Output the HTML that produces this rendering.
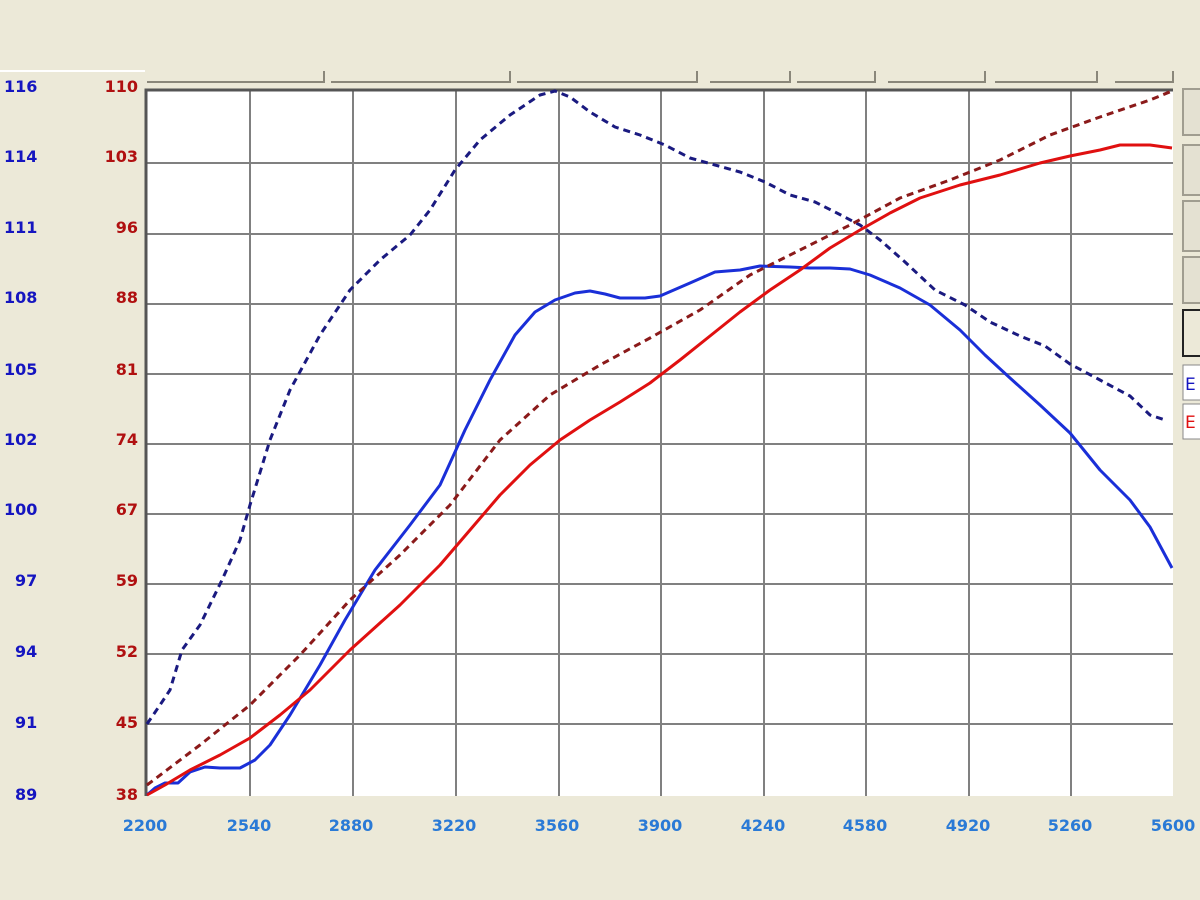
<!DOCTYPE html>
<html><head><style>
body{margin:0;background:#ece9d8;width:1200px;height:900px;overflow:hidden;font-family:"DejaVu Sans","Liberation Sans",sans-serif;}
</style></head><body>
<svg width="1200" height="900" xmlns="http://www.w3.org/2000/svg" style="position:absolute;left:0;top:0;font-family:'DejaVu Sans','Liberation Sans',sans-serif">
<rect width="1200" height="900" fill="#ece9d8"/>
<line x1="0" y1="71" x2="145" y2="71" stroke="#fff" stroke-width="2"/>
<g stroke="#8a877a" stroke-width="2" fill="none">
<path d="M147 82H324V71"/><path d="M331 82H510V71"/><path d="M517 82H697V71"/><path d="M710 82H790V71"/><path d="M797 82H875V71"/><path d="M888 82H985V71"/><path d="M995 82H1097V71"/><path d="M1115 82H1173V71"/>
</g>
<rect x="146" y="90" width="1027" height="706" fill="#fff"/>
<g stroke="#808080" stroke-width="2">
<line x1="250" y1="90" x2="250" y2="796"/><line x1="353" y1="90" x2="353" y2="796"/><line x1="456" y1="90" x2="456" y2="796"/><line x1="559" y1="90" x2="559" y2="796"/><line x1="661" y1="90" x2="661" y2="796"/><line x1="764" y1="90" x2="764" y2="796"/><line x1="866" y1="90" x2="866" y2="796"/><line x1="969" y1="90" x2="969" y2="796"/><line x1="1071" y1="90" x2="1071" y2="796"/>
<line x1="146" y1="163" x2="1173" y2="163"/><line x1="146" y1="234" x2="1173" y2="234"/><line x1="146" y1="304" x2="1173" y2="304"/><line x1="146" y1="374" x2="1173" y2="374"/><line x1="146" y1="444" x2="1173" y2="444"/><line x1="146" y1="514" x2="1173" y2="514"/><line x1="146" y1="584" x2="1173" y2="584"/><line x1="146" y1="654" x2="1173" y2="654"/><line x1="146" y1="724" x2="1173" y2="724"/>
</g>
<path d="M146 796V90H1173" stroke="#555" stroke-width="3" fill="none"/>
<g fill="none" stroke-width="3" stroke-linejoin="round">
<polyline stroke="#1a1a80" stroke-dasharray="7,5" points="147,724 160,705 170,690 182,650 200,625 222,580 240,540 250,505 270,440 290,390 320,335 350,290 380,260 410,235 430,210 455,170 480,140 510,115 540,95 555,91 570,97 590,112 615,127 640,135 665,145 690,158 715,165 740,172 765,182 790,195 815,202 835,212 860,225 880,240 905,262 935,290 965,305 990,322 1020,336 1045,346 1070,364 1100,380 1130,396 1150,415 1165,420"/>
<polyline stroke="#1a2fd8" points="147,795 155,788 165,783 178,783 190,772 205,767 220,768 240,768 255,760 270,745 290,715 320,665 345,620 375,570 410,525 440,485 465,430 490,380 515,335 535,312 555,300 575,293 590,291 605,294 620,298 645,298 660,296 690,283 715,272 740,270 760,266 790,267 810,268 830,268 850,269 870,275 900,288 930,305 960,330 985,355 1010,378 1040,405 1070,433 1100,470 1130,500 1150,527 1172,568"/>
<polyline stroke="#8b1a1a" stroke-dasharray="7,5" points="147,785 200,745 250,705 300,655 350,600 400,555 450,505 500,440 550,395 600,365 650,338 700,310 750,275 800,250 850,225 900,198 950,180 1000,160 1050,135 1100,117 1150,100 1172,91"/>
<polyline stroke="#e01010" points="147,795 165,785 190,770 220,755 250,738 280,715 310,690 350,650 400,605 440,565 470,530 500,495 530,465 560,440 590,420 620,402 650,383 680,360 710,336 740,312 770,290 800,270 830,248 860,230 890,213 920,198 960,185 1000,175 1040,163 1070,156 1100,150 1120,145 1150,145 1172,148"/>
</g>
<g font-size="16" font-weight="bold" fill="#1515c0">
<text x="4" y="92">116</text><text x="4" y="162">114</text><text x="4" y="233">111</text><text x="4" y="303">108</text><text x="4" y="375">105</text><text x="4" y="445">102</text><text x="4" y="515">100</text><text x="15" y="586">97</text><text x="15" y="657">94</text><text x="15" y="728">91</text><text x="15" y="800">89</text>
</g>
<g font-size="16" font-weight="bold" fill="#b01010" text-anchor="end">
<text x="138" y="92">110</text><text x="138" y="162">103</text><text x="138" y="233">96</text><text x="138" y="303">88</text><text x="138" y="375">81</text><text x="138" y="445">74</text><text x="138" y="515">67</text><text x="138" y="586">59</text><text x="138" y="657">52</text><text x="138" y="728">45</text><text x="138" y="800">38</text>
</g>
<g font-size="16" font-weight="bold" fill="#2a7ad6" text-anchor="middle">
<text x="145" y="831">2200</text><text x="249" y="831">2540</text><text x="351" y="831">2880</text><text x="454" y="831">3220</text><text x="557" y="831">3560</text><text x="660" y="831">3900</text><text x="763" y="831">4240</text><text x="865" y="831">4580</text><text x="968" y="831">4920</text><text x="1070" y="831">5260</text><text x="1173" y="831">5600</text>
</g>
<g fill="#e4e1d2" stroke="#a09d90" stroke-width="2">
<rect x="1183" y="89" width="20" height="46"/><rect x="1183" y="145" width="20" height="50"/><rect x="1183" y="201" width="20" height="50"/><rect x="1183" y="257" width="20" height="46"/>
</g>
<rect x="1183" y="310" width="20" height="46" fill="#ece9d8" stroke="#222" stroke-width="2"/>
<rect x="1183" y="365" width="20" height="35" fill="#fff" stroke="#888" stroke-width="1"/>
<rect x="1183" y="404" width="20" height="35" fill="#fff" stroke="#888" stroke-width="1"/>
<text x="1185" y="390" font-size="17" fill="#1515c0">E</text>
<text x="1185" y="428" font-size="17" fill="#e01010">E</text>
</svg>
</body></html>
